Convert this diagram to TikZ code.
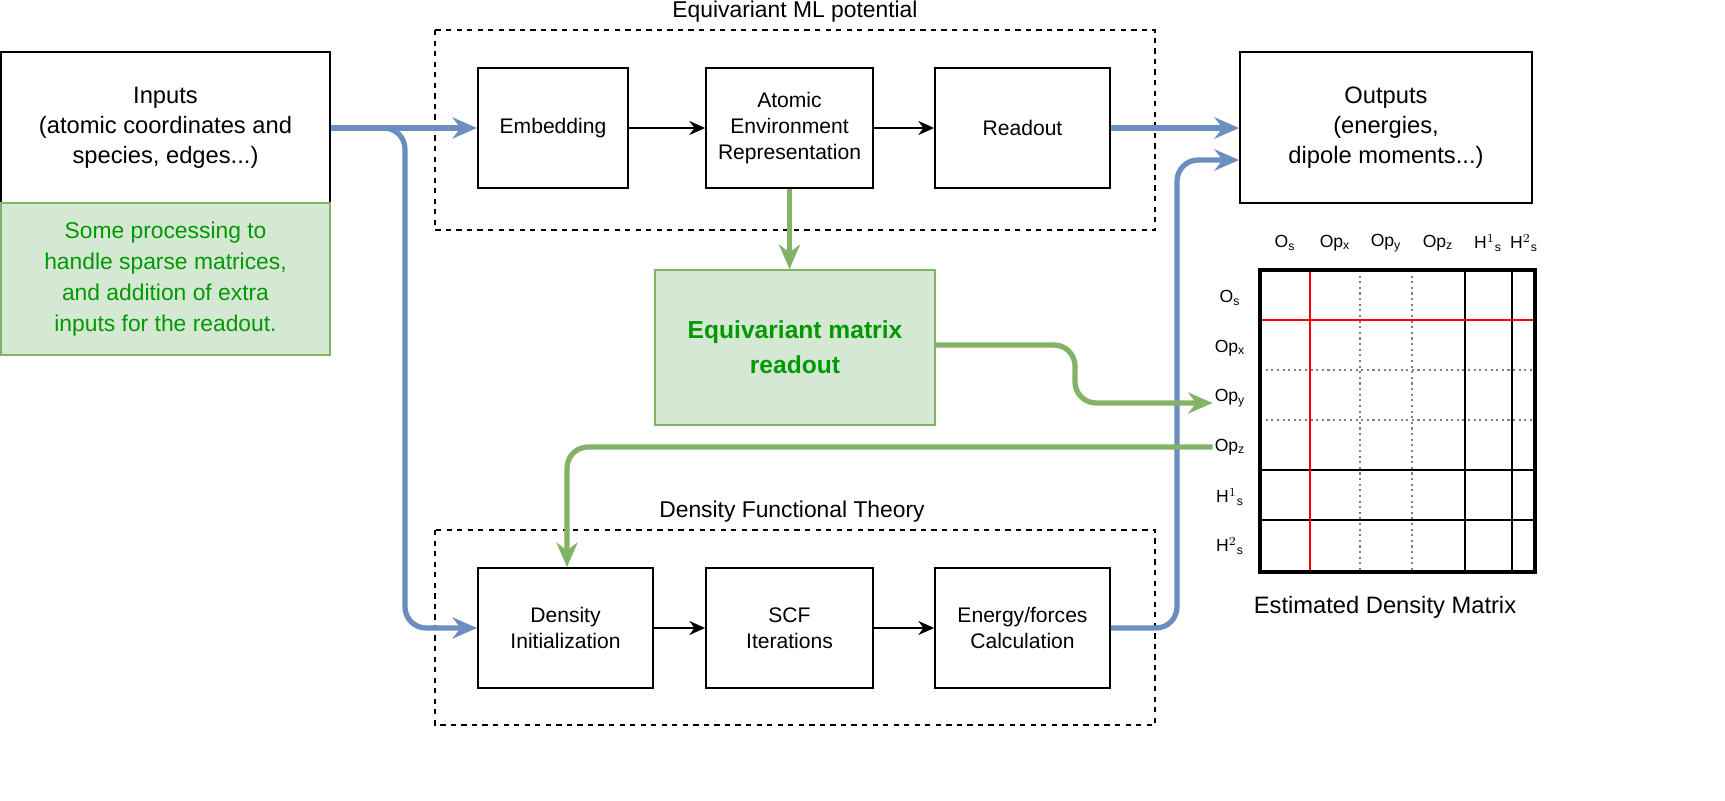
\documentclass[tikz,border=0pt]{standalone}
\usepackage{fontspec}
\setmainfont{Liberation Sans}
\usetikzlibrary{arrows.meta}
\definecolor{bl}{HTML}{6C8EBF}
\definecolor{gr}{HTML}{82B366}
\definecolor{gfill}{HTML}{D5E8D4}
\definecolor{gtext}{HTML}{009900}
\begin{document}
\begin{tikzpicture}[x=0.02cm,y=-0.02cm,
 box/.style={draw,line width=1pt,align=center,font=\fontsize{12}{15}\selectfont,inner sep=0pt},
 big/.style={draw,line width=1pt,align=center,font=\fontsize{13.5}{17}\selectfont,inner sep=0pt},
 dashbox/.style={draw,dashed,line width=0.8pt},
 barr/.style={bl,line width=3pt,rounded corners=12pt,-{Stealth[length=14pt,width=12pt]}},
 garr/.style={gr,line width=3pt,rounded corners=12pt,-{Stealth[length=14pt,width=12pt]}},
 karr/.style={line width=1pt,-{Stealth[length=9pt,width=8pt]}},
 lab/.style={font=\fontsize{10}{12}\selectfont,inner sep=1pt},
 ttl/.style={font=\fontsize{13}{16}\selectfont}]
\useasboundingbox (0,0) rectangle (1725,801);
% dashed containers
\draw[dashbox] (435,30) rectangle (1155,230);
\node[ttl] (t1) at (795,12) {Equivariant ML potential};
\draw[dashbox] (435,530) rectangle (1155,725);
\node[ttl] (t2) at (792,512) {Density Functional Theory};
% boxes
\node[big,minimum width=329*0.02cm,minimum height=151*0.02cm] (in) at (165.5,127.5) {Inputs\\(atomic coordinates and\\species, edges...)};
\node[draw=gr,fill=gfill,line width=1pt,minimum width=329*0.02cm,minimum height=152*0.02cm,font=\fontsize{13}{17.5}\selectfont,text=gtext,align=center] (proc) at (165.5,279) {Some processing to\\handle sparse matrices,\\and addition of extra\\inputs for the readout.};
\node[box,minimum width=150*0.02cm,minimum height=120*0.02cm] (emb) at (553,128) {Embedding};
\node[box,minimum width=167*0.02cm,minimum height=120*0.02cm] (ae) at (789.5,128) {Atomic\\Environment\\Representation};
\node[box,minimum width=175*0.02cm,minimum height=120*0.02cm] (ro) at (1022.5,128) {Readout};
\node[big,minimum width=292*0.02cm,minimum height=151*0.02cm] (out) at (1386,127.5) {Outputs\\(energies,\\dipole moments...)};
\node[draw=gr,fill=gfill,line width=1pt,minimum width=280*0.02cm,minimum height=155*0.02cm,align=center,text=gtext,font=\bfseries\fontsize{14}{20}\selectfont] (emr) at (795,347.5) {Equivariant matrix\\readout};
\node[box,minimum width=175*0.02cm,minimum height=120*0.02cm] (di) at (565.5,628) {Density\\Initialization};
\node[box,minimum width=167*0.02cm,minimum height=120*0.02cm] (scf) at (789.5,628) {SCF\\Iterations};
\node[box,minimum width=175*0.02cm,minimum height=120*0.02cm] (ef) at (1022.5,628) {Energy/forces\\Calculation};
% black arrows
\draw[karr] (emb) -- (ae);
\draw[karr] (ae) -- (ro);
\draw[karr] (di) -- (scf);
\draw[karr] (scf) -- (ef);
% matrix
\draw[gray,dotted,line width=1.2pt] (1360,270) -- (1360,572) (1412,270) -- (1412,572) (1260,370) -- (1535,370) (1260,420) -- (1535,420);
\draw[line width=1.2pt] (1465,270) -- (1465,572) (1512,270) -- (1512,572) (1260,470) -- (1535,470) (1260,520) -- (1535,520);
\draw[red,line width=1.2pt] (1310,270) -- (1310,572) (1260,320) -- (1535,320);
\draw[line width=1.8pt] (1260,270) rectangle (1535,572);
\foreach \x/\t in {1285/O$_\mathrm{s}$,1335/Op$_\mathrm{x}$,1386/Op$_\mathrm{y}$,1438/Op$_\mathrm{z}$,1488/H$^1$$_\mathrm{s}$,1524/H$^2$$_\mathrm{s}$}
  \node[lab] at (\x,243) {\t};
\node[lab] (r1) at (1230,298) {O$_\mathrm{s}$};
\node[lab] (r2) at (1230,348) {Op$_\mathrm{x}$};
\node[lab] (r3) at (1230,398) {Op$_\mathrm{y}$};
\node[lab] (r4) at (1230,447) {Op$_\mathrm{z}$};
\node[lab] (r5) at (1230,497) {H$^1$$_\mathrm{s}$};
\node[lab] (r6) at (1230,546) {H$^2$$_\mathrm{s}$};
\node[font=\fontsize{13.5}{16}\selectfont] (edm) at (1385,607) {Estimated Density Matrix};
% blue arrows
\draw[barr] (in.east|-0,128) -- (emb.west);
\draw[barr] (390,128) -- (405,128) -- (405,628) -- (di.west);
\draw[barr] (ro.east) -- (out.west|-0,128);
\draw[barr] (ef.east) -- (1177,628) -- (1177,160) -- (out.west|-0,160);
% green arrows
\draw[garr] (ae.south) -- (emr.north-|ae.south);
\draw[garr] (emr.east|-0,345) -- (1075,345) -- (1075,403) -- (r3.west|-0,403);
\draw[garr] (r4.west) -- (567,447) -- (di.north-|567,0);
\end{tikzpicture}
\end{document}
